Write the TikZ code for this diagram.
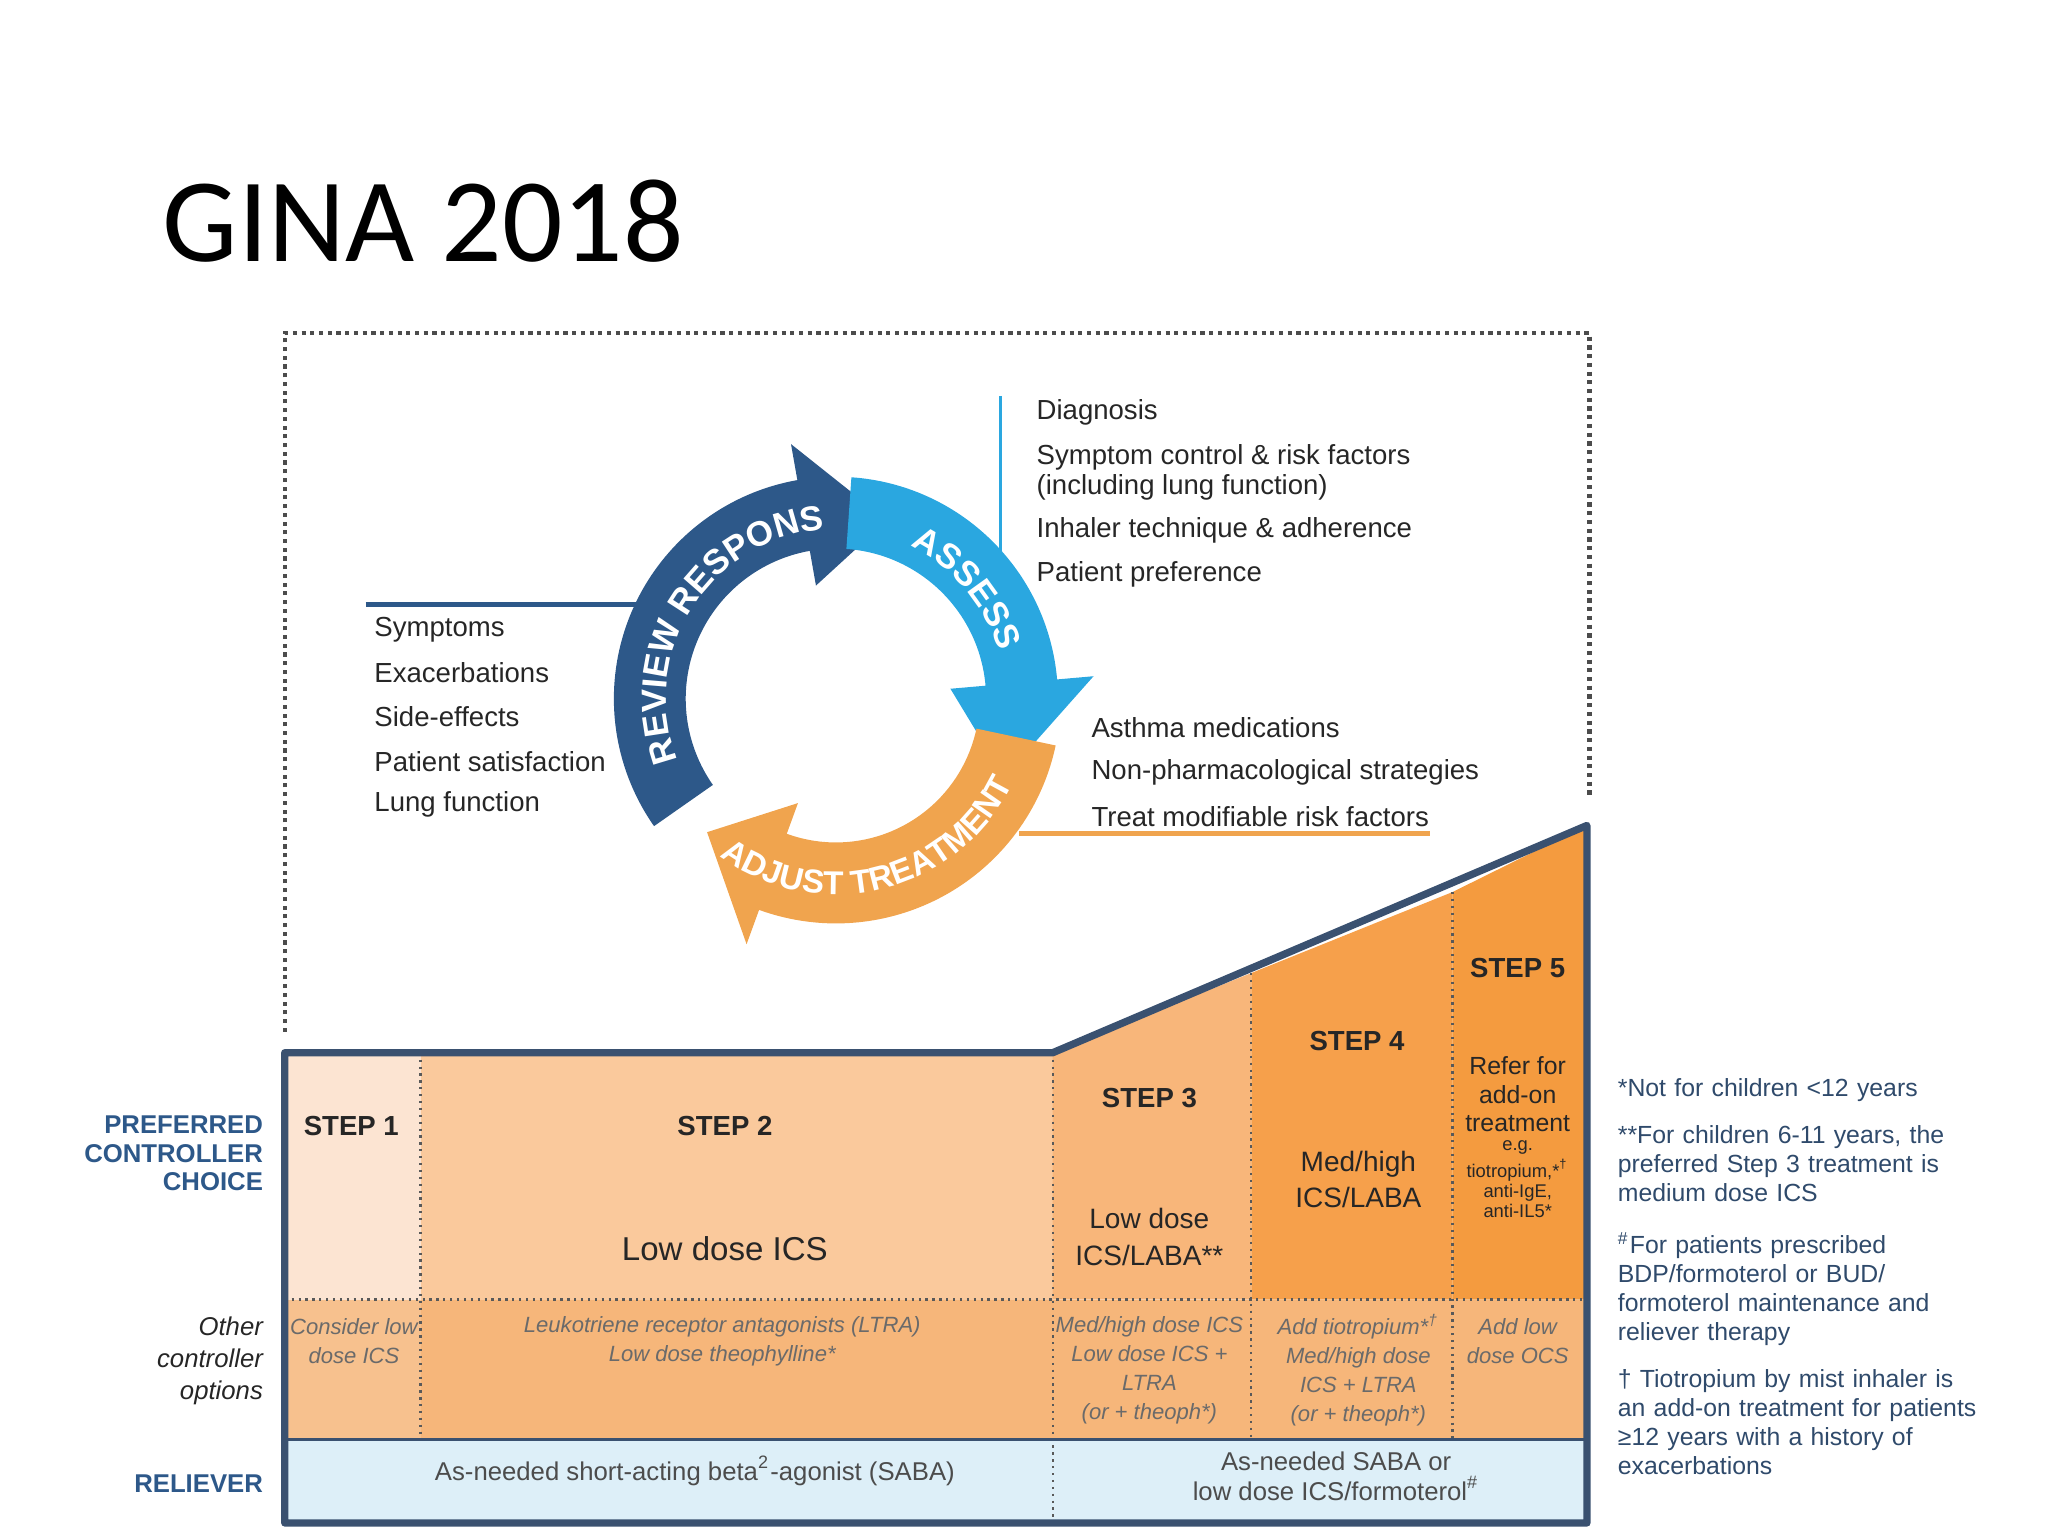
\documentclass[tikz,border=0pt]{standalone}
\usepackage{fontspec}
\setmainfont{Liberation Sans}
\newfontfamily\titlefont{Carlito}
\usetikzlibrary{decorations.text}
\definecolor{dblue}{HTML}{2D5889}
\definecolor{lblue}{HTML}{2AA7E0}
\definecolor{aorange}{HTML}{F0A44E}
\definecolor{frame}{HTML}{3A5170}
\definecolor{sone}{HTML}{FCE4D2}
\definecolor{stwo}{HTML}{FAC99C}
\definecolor{sthree}{HTML}{F8B67A}
\definecolor{sfour}{HTML}{F6A04B}
\definecolor{sfive}{HTML}{F49B3F}
\definecolor{oth}{HTML}{F6B67A}
\definecolor{rel}{HTML}{DDEFF8}
\definecolor{note}{HTML}{2F4A6B}
\definecolor{gtext}{HTML}{6A6A6A}
\newcommand\fz[2]{\fontsize{#1}{#2}\selectfont}
\tikzset{
 lst/.style={anchor=west,inner sep=0pt,font=\fz{6}{7},text=black!85},
 stephd/.style={inner sep=0pt,font=\fz{6}{7}\bfseries,text=black!85,align=center},
 cell/.style={inner sep=0pt,font=\fz{6.1}{8},text=black!85,align=center},
 otext/.style={inner sep=0pt,font=\fz{4.8}{6.3}\itshape,text=gtext,align=center},
 lbl/.style={inner sep=0pt,font=\fz{5.6}{6.2}\bfseries,text=dblue,align=right,anchor=east},
 nt/.style={anchor=north west,inner sep=0pt,font=\fz{5.4}{6.3},text=note,align=left,text width=2.75cm,execute at begin node={\hyphenpenalty=10000\relax}},
 dline/.style={densely dotted,gray!70!black,line width=0.5pt},
}
\begin{document}
\begin{tikzpicture}[x=0.01cm,y=0.01cm]
\useasboundingbox (0,0) rectangle (1568,-1176);
\node[anchor=base west,inner sep=0pt,font=\titlefont\fz{26}{30}] (title) at (124,-200) {GINA 2018};
% dotted frame
\draw[densely dotted,gray!60!black,line width=0.9pt] (218,-790) -- (218,-255) -- (1217,-255) -- (1217,-610);
% table fills
\fill[sone] (218,-806) rectangle (322,-995);
\fill[stwo] (322,-806) rectangle (806,-995);
\fill[sthree] (806,-806) -- (958,-745) -- (958,-995) -- (806,-995) -- cycle;
\fill[sfour] (958,-745) -- (1112,-683) -- (1112,-995) -- (958,-995) -- cycle;
\fill[sfive] (1112,-683) -- (1215,-632) -- (1215,-995) -- (1112,-995) -- cycle;
\fill[oth] (218,-995) rectangle (1215,-1102);
\fill[oth!85!white] (218,-995) rectangle (322,-1102);
\fill[rel] (218,-1102) rectangle (1215,-1166);
\draw[dline] (322,-806) -- (322,-1102);
\draw[dline] (806,-806) -- (806,-1166);
\draw[dline] (958,-745) -- (958,-1102);
\draw[dline] (1112,-683) -- (1112,-1102);
\draw[dline] (218,-995) -- (1215,-995);
\draw[frame,line width=1.6pt,line join=round] (218,-1166) -- (218,-806) -- (806,-806) -- (1215,-632) -- (1215,-1166) -- cycle;
\draw[frame,line width=0.8pt] (218,-1102) -- (1215,-1102);
% cycle
\begin{scope}[shift={(640,-535)}]
 \fill[dblue] (215:170) arc (215:100:170) -- (100:198) -- (74:142) -- (100:88) -- (100:115) arc (100:215:115) -- cycle;
 \fill[lblue] (86:170) arc (86:5:170) -- (5:198) -- (-25:142) -- (5:88) -- (5:115) arc (5:86:115) -- cycle;
 \fill[aorange] (-12:172) arc (-12:-110:172) -- (-110:200) -- (-134:142) -- (-110:85) -- (-110:110) arc (-110:-12:110) -- cycle;
 \path[decorate,decoration={text along path,text align=center,text={|\fz{7.6}{9}\bfseries\color{white}|REVIEW RESPONSE}}] (195:130) arc (195:92:130);
 \path[decorate,decoration={text along path,text align=center,text={|\fz{7.6}{9}\bfseries\color{white}|ASSESS}}] (72:130) arc (72:8:130);
 \path[decorate,decoration={text along path,text align=center,text={|\fz{7.2}{9}\bfseries\color{white}|ADJUST TREATMENT}}] (-140:150) arc (-140:-12:150);
\end{scope}
% lines
\draw[dblue,line width=1pt] (280,-463) -- (492,-463);
\draw[lblue,line width=0.8pt] (766,-303) -- (766,-455);
\draw[aorange,line width=1pt] (780,-638) -- (1095,-638);
% lists
\node[lst] (s1) at (286,-482) {Symptoms};
\node[lst] (s2) at (286,-515) {Exacerbations};
\node[lst] (s3) at (286,-549) {Side-effects};
\node[lst] (s4) at (286,-583) {Patient satisfaction};
\node[lst] (s5) at (286,-616) {Lung function};
\node[lst] (a1) at (793,-316) {Diagnosis};
\node[lst] (a2) at (793,-350) {Symptom control \& risk factors};
\node[lst] (a3) at (793,-373) {(including lung function)};
\node[lst] (a4) at (793,-406) {Inhaler technique \& adherence};
\node[lst] (a5) at (793,-440) {Patient preference};
\node[lst] (t1) at (835,-557) {Asthma medications};
\node[lst] (t2) at (835,-591) {Non-pharmacological strategies};
\node[lst] (t3) at (835,-625) {Treat modifiable risk factors};
% steps
\node[stephd] (st1) at (269,-862) {STEP 1};
\node[stephd] (st2) at (555,-862) {STEP 2};
\node[stephd] (st3) at (880,-841) {STEP 3};
\node[stephd] (st4) at (1039,-797) {STEP 4};
\node[stephd] (st5) at (1162,-741) {STEP 5};
\node[cell,font=\fz{7.2}{9}] (c2) at (555,-956) {Low dose ICS};
\node[cell] (c3) at (880,-947) {Low dose\\ICS/LABA**};
\node[cell] (c4) at (1040,-903) {Med/high\\ICS/LABA};
\node[cell,font=\fz{5.4}{6.2}] (c5) at (1162,-838) {Refer for\\add-on\\treatment};
\node[cell,font=\fz{4}{4.4}] (c5b) at (1162,-903) {e.g.\\tiotropium,*\textsuperscript{†}\\anti-IgE,\\anti-IL5*};
% other options
\node[otext] (o1) at (271,-1027) {Consider low\\dose ICS};
\node[otext] (o2) at (553,-1027) {Leukotriene receptor antagonists (LTRA)\\Low dose theophylline*};
\node[otext] (o3) at (880,-1049) {Med/high dose ICS\\Low dose ICS +\\LTRA\\(or + theoph*)};
\node[otext] (o4) at (1040,-1049) {Add tiotropium*\textsuperscript{†}\\Med/high dose\\ICS + LTRA\\(or + theoph*)};
\node[otext] (o5) at (1162,-1027) {Add low\\dose OCS};
% reliever
\node[cell,font=\fz{5.6}{6.5},text=black!70] (r1) at (532,-1126) {As-needed short-acting beta\textsuperscript{2}-agonist (SABA)};
\node[cell,font=\fz{5.6}{6.5},text=black!70] (r2) at (1023,-1130) {As-needed SABA or\\low dose ICS/formoterol\textsuperscript{\#}};
% left labels
\node[lbl] (l1) at (202,-883) {PREFERRED\\CONTROLLER\\CHOICE};
\node[lbl,font=\fz{5.6}{6.9}\itshape,text=black!85] (l2) at (202,-1042) {Other\\controller\\options};
\node[lbl] (l3) at (202,-1136) {RELIEVER};
% notes
\node[nt] (n1) at (1238,-825) {*Not for children {<}12 years};
\node[nt] (n2) at (1238,-861) {**For children 6-11 years, the preferred Step 3 treatment is medium dose ICS};
\node[nt] (n3) at (1238,-943) {\textsuperscript{\#}For patients prescribed BDP/formoterol or BUD/ formoterol maintenance and reliever therapy};
\node[nt] (n4) at (1238,-1048) {† Tiotropium by mist inhaler is an add-on treatment for patients ≥12 years with a history of exacerbations};
\end{tikzpicture}
\end{document}
